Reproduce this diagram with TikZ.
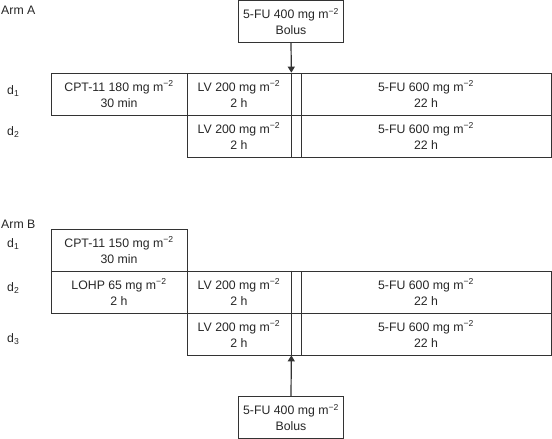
\documentclass[tikz,border=0pt]{standalone}
\usepackage{fontspec}
\setmainfont{Liberation Sans}
\usetikzlibrary{arrows.meta}
\newcommand{\mgm}{mg m\textsuperscript{−2}}
\begin{document}
\begin{tikzpicture}[x=1pt,y=-1pt,
  every node/.style={font=\fontsize{12.3}{16}\selectfont, text=black!85},
  cell/.style={draw=black!80, line width=0.7pt, minimum height=42pt, inner sep=0pt, align=center},
  lab/.style={anchor=west, inner sep=0pt},
  bolusline/.style={draw=black!80, line width=1.2pt},
  tip/.style={-{Triangle[length=6pt,width=7pt]}}
]
\useasboundingbox (0,0) rectangle (552,439);

% ---------- Arm A ----------
\node[lab] (armA) at (1,10) {Arm A};
\node[lab] (dA1) at (7,91) {d\textsubscript{1}};
\node[lab] (dA2) at (7,132) {d\textsubscript{2}};

\node[cell, minimum width=105pt, minimum height=41.5pt] (bolA) at (291,21.25) {5-FU 400 \mgm\\Bolus};

\node[cell, minimum width=136pt] (cptA) at (119,94) {CPT-11 180 \mgm\\30 min};
\node[cell, minimum width=104pt] (lvA1) at (239,94) {LV 200 \mgm\\2 h};
\node[cell, minimum width=10pt] (gA1) at (296,94) {};
\node[cell, minimum width=250pt] (fuA1) at (426,94) {5-FU 600 \mgm\\22 h};

\node[cell, minimum width=104pt] (lvA2) at (239,136) {LV 200 \mgm\\2 h};
\node[cell, minimum width=10pt] (gA2) at (296,136) {};
\node[cell, minimum width=250pt] (fuA2) at (426,136) {5-FU 600 \mgm\\22 h};

\draw[bolusline, tip] (bolA.south) -- (lvA1.north east);
\draw[bolusline] (lvA1.north east) -- (lvA2.south east);

% ---------- Arm B ----------
\node[lab] (armB) at (1,224) {Arm B};
\node[lab] (dB1) at (7,244) {d\textsubscript{1}};
\node[lab] (dB2) at (7,288) {d\textsubscript{2}};
\node[lab] (dB3) at (7,339) {d\textsubscript{3}};

\node[cell, minimum width=136pt] (cptB) at (119,250) {CPT-11 150 \mgm\\30 min};

\node[cell, minimum width=136pt] (lohpB) at (119,292) {LOHP 65 \mgm\\2 h};
\node[cell, minimum width=104pt] (lvB2) at (239,292) {LV 200 \mgm\\2 h};
\node[cell, minimum width=10pt] (gB2) at (296,292) {};
\node[cell, minimum width=250pt] (fuB2) at (426,292) {5-FU 600 \mgm\\22 h};

\node[cell, minimum width=104pt] (lvB3) at (239,334) {LV 200 \mgm\\2 h};
\node[cell, minimum width=10pt] (gB3) at (296,334) {};
\node[cell, minimum width=250pt] (fuB3) at (426,334) {5-FU 600 \mgm\\22 h};

\node[cell, minimum width=105pt, minimum height=42pt] (bolB) at (291,417.5) {5-FU 400 \mgm\\Bolus};

\draw[bolusline, tip] (bolB.north) -- (lvB3.south east);
\draw[bolusline] (lvB2.north east) -- (lvB3.south east);
\end{tikzpicture}
\end{document}
